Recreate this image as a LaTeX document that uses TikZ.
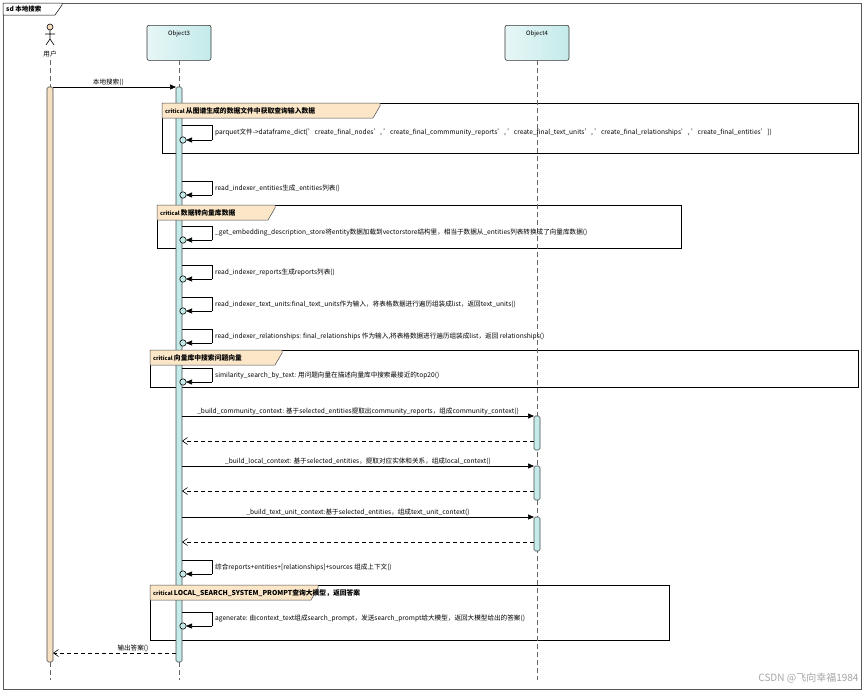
\documentclass[tikz,border=0pt]{standalone}
\usepackage{fontspec}
\setmainfont{Noto Sans CJK SC}
\usetikzlibrary{arrows.meta}
\definecolor{actfill}{HTML}{F6DEC0}
\definecolor{o3fill}{HTML}{C4EAEA}
\definecolor{tabfill}{HTML}{FBE6C8}
\newcommand\q{\char"27\relax}
\begin{document}
\begin{tikzpicture}[x=1pt,y=-1pt,
  lbl/.style={font=\fontsize{6.6}{7}\selectfont,inner sep=1pt},
  lifel/.style={draw=gray!80!black,dashed,dash pattern=on 5pt off 3pt,line width=0.8pt},
  actbar/.style={draw=black!70,line width=0.6pt,rounded corners=1.5pt},
  obj/.style={draw=black!80,line width=0.6pt,rounded corners=2pt,font=\fontsize{6}{7}\selectfont},
  msg/.style={-{Triangle[length=6pt,width=5pt]},line width=0.6pt},
  ret/.style={-{Straight Barb[length=5pt,width=7pt]},dashed,dash pattern=on 4pt off 3pt,line width=0.6pt},
  frag/.style={draw=black,line width=0.6pt},
  tab/.style={draw=black!70,fill=tabfill,line width=0.5pt},
  wm/.style={font=\fontsize{10}{12}\selectfont,text=gray!70}]
\useasboundingbox (0,0) rectangle (865,694);
\fill[white] (0,0) rectangle (865,694);
% outer frame
\draw[draw=gray!70!black,line width=0.8pt] (3,3) rectangle (861,689);
\draw[fill=white,line width=0.5pt] (3,3) -- (62,3) -- (62,5) -- (55,15) -- (3,15) -- cycle;
\node[lbl,anchor=west,font=\fontsize{6.5}{7}\selectfont\bfseries] (sdt) at (5,9) {sd 本地搜索};

% actor
\draw[line width=0.6pt,fill=actfill] (50,27) circle (3);
\draw[line width=0.6pt] (50,30) -- (50,39) (45,34) -- (55,34) (50,39) -- (46,45) (50,39) -- (54,45);
\node[lbl] (user) at (50,54) {用户};
\draw[lifel] (50,60) -- (50,87);
\draw[lifel] (50,662) -- (50,680);
\draw[actbar,fill=actfill] (47,87) rectangle (53,662);

% Objects
\node[obj,minimum width=64pt,minimum height=35pt,anchor=north,text depth=20pt,left color=o3fill!40,right color=o3fill] (o3) at (179,25) {Object3};
\draw[lifel] (179,60) -- (179,87);
\draw[lifel] (179,662) -- (179,680);
\node[obj,minimum width=64pt,minimum height=35pt,anchor=north,text depth=20pt,left color=o3fill!40,right color=o3fill] (o4) at (537,25) {Object4};

% fragment bodies
\draw[frag,fill=white] (162,103) rectangle (858,153);
\draw[frag,fill=white] (157,205) rectangle (681,248);
\draw[frag,fill=white] (150,350) rectangle (858,387);
\draw[frag,fill=white] (150,585) rectangle (669,640);
\draw[lifel] (537,60) -- (537,680);

% activation Object3
\draw[actbar,fill=o3fill] (176,87) rectangle (182,662);

% fragment tabs
\newcommand\crittab[4]{% x1 y1 tabend label
  \draw[tab] (#1,#2) -- (#3,#2) -- (#3,#2+3) -- (#3-7,#2+15) -- (#1,#2+15) -- cycle;
  \node[lbl,anchor=west] at (#1+2,#2+8) {\fontsize{5.5}{6}\selectfont\bfseries critical\ \fontsize{6.8}{7}\selectfont #4};}
\crittab{162}{103}{380}{从图谱生成的数据文件中获取查询输入数据}
\crittab{157}{205}{275}{数据转向量库数据}
\crittab{150}{350}{282}{向量库中搜索问题向量}
\crittab{150}{585}{318}{LOCAL\_SEARCH\_SYSTEM\_PROMPT查询大模型，返回答案}

% first message
\coordinate (u1) at (53,87); \coordinate (o31) at (176,87);
\draw[msg] (u1) -- node[lbl,above,pos=0.45,fill=white] {本地搜索()} (o31);

% self messages
\newcommand\selfm[3]{% top bottom label
  \draw[line width=0.6pt] (182,#1) -- (212,#1) -- (212,#2);
  \draw[msg] (212,#2) -- (186,#2);
  \draw[line width=0.6pt,fill=o3fill] (183,#2) circle (3.2);
  \node[lbl,anchor=west] at (214,#1+7) {#3};}
\selfm{125}{140}{parquet文件->dataframe\_dict[\q create\_final\_nodes\q, \q create\_final\_commmunity\_reports\q, \q create\_final\_text\_units\q, \q create\_final\_relationships\q, \q create\_final\_entities\q])}
\selfm{181}{195}{read\_indexer\_entities生成\_entities列表()}
\selfm{226}{240}{\_get\_embedding\_description\_store将entity数据加载到vectorstore结构里，相当于数据从\_entities列表转换成了向量库数据()}
\selfm{265}{279}{read\_indexer\_reports生成reports列表()}
\selfm{297}{311}{read\_indexer\_text\_units:final\_text\_units作为输入，将表格数据进行遍历组装成list，返回text\_units()}
\selfm{329}{343}{read\_indexer\_relationships: final\_relationships 作为输入,将表格数据进行遍历组装成list，返回 relationships()}
\selfm{368}{382}{similarity\_search\_by\_text: 用问题向量在描述向量库中搜索最接近的top20()}
\selfm{560}{574}{综合reports+entities+[relationships]+sources 组成上下文()}
\selfm{612}{626}{agenerate: 由context\_text组成search\_prompt，发送search\_prompt给大模型，返回大模型给出的答案()}

% calls to Object4
\newcommand\callm[4]{% y ret name label
  \coordinate (#3a) at (182,#1); \coordinate (#3b) at (534,#1);
  \draw[actbar,fill=o3fill] (534,#1) rectangle (540,#1+34);
  \draw[msg] (#3a) -- (#3b);
  \node[lbl,fill=white] at (358,#1-5) {#4};
  \coordinate (#3c) at (534,#2); \coordinate (#3d) at (182,#2);
  \draw[ret] (#3c) -- (#3d);}
\callm{416}{441}{ca}{\_build\_community\_context: 基于selected\_entities提取出community\_reports，组成community\_context()}
\callm{466}{491}{cb}{\_build\_local\_context: 基于selected\_entities，提取对应实体和关系，组成local\_context()}
\callm{517}{542}{cc}{\_build\_text\_unit\_context:基于selected\_entities，组成text\_unit\_context()}

% return to user
\coordinate (o3e) at (176,653); \coordinate (ue) at (53,653);
\draw[ret] (o3e) -- node[lbl,above,pos=0.35,fill=white] {输出答案()} (ue);

\node[wm,anchor=east] (wmk) at (862,678) {CSDN @飞向幸福1984};
\end{tikzpicture}
\end{document}
